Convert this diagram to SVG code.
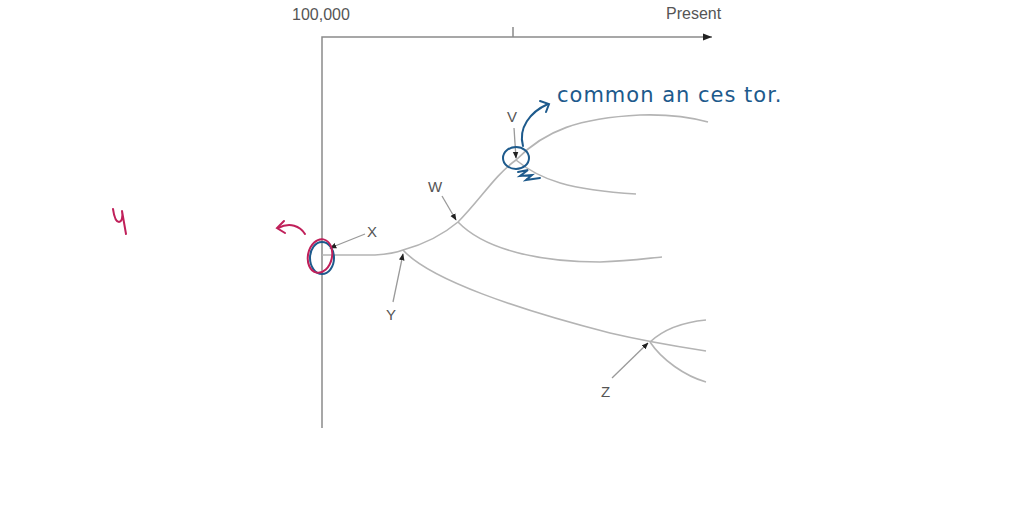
<svg xmlns="http://www.w3.org/2000/svg" width="1024" height="518" viewBox="0 0 1024 518">
<style>
.axis{stroke:#8a8a8a;stroke-width:1.5;fill:none}
.lin{stroke:#b4b4b4;stroke-width:1.6;fill:none}
.ptr{stroke:#9a9a9a;stroke-width:1.3;fill:none}
.lbl{font-family:"Liberation Sans",Arial,sans-serif;font-size:15px;fill:#555}
.ax{font-family:"Liberation Sans",Arial,sans-serif;font-size:16px;fill:#555}
.blue{stroke:#1d5a8c;stroke-width:2;fill:none;stroke-linecap:round}
.pink{stroke:#c0205a;stroke-width:2;fill:none;stroke-linecap:round}
</style>
<defs>
<marker id="ah" viewBox="0 0 10 10" refX="9" refY="5" markerWidth="7" markerHeight="7" orient="auto-start-reverse" markerUnits="userSpaceOnUse"><path d="M0,1 L10,5 L0,9 Z" fill="#222"/></marker>
<marker id="axh" viewBox="0 0 10 10" refX="10" refY="5" markerWidth="12" markerHeight="9" orient="auto" markerUnits="userSpaceOnUse"><path d="M0,1 L10,5 L0,9 Z" fill="#222"/></marker>
</defs>
<rect width="1024" height="518" fill="#fff"/>
<g id="axes">
<path class="axis" d="M322,428 L322,37 L712,37" marker-end="url(#axh)"/>
<line class="axis" x1="513" y1="27" x2="513" y2="37"/>
<text class="ax" x="292" y="20">100,000</text>
<text class="ax" x="666" y="19">Present</text>
</g>
<g id="connectors">
<path class="lin" d="M322,255 L375,255 C390,254 398,252 403,250 C425,244 445,233 458,222 C480,200 495,175 516,160 C545,130 580,118 640,115 C670,114 690,117 708,122"/>
<path class="lin" d="M516,160 C540,180 570,190 636,194"/>
<path class="lin" d="M458,222 C485,250 540,262 600,262 C630,261 650,258 662,257"/>
<path class="lin" d="M403,250 C430,280 520,310 610,333 C640,340 680,347 706,351"/>
<path class="lin" d="M650,342 C665,328 685,322 706,320"/>
<path class="lin" d="M650,342 C662,360 685,376 706,382"/>
<line class="ptr" x1="365" y1="234" x2="330" y2="248" marker-end="url(#ah)"/>
<line class="ptr" x1="393" y1="302" x2="403" y2="254" marker-end="url(#ah)"/>
<line class="ptr" x1="442" y1="196" x2="456" y2="220" marker-end="url(#ah)"/>
<line class="ptr" x1="514" y1="128" x2="516" y2="158" marker-end="url(#ah)"/>
<line class="ptr" x1="612" y1="378" x2="648" y2="343" marker-end="url(#ah)"/>
</g>
<g id="node-X"><text class="lbl" x="367" y="237">X</text></g>
<g id="node-Y"><text class="lbl" x="386" y="320">Y</text></g>
<g id="node-W"><text class="lbl" x="428" y="192">W</text></g>
<g id="node-V"><text class="lbl" x="507" y="122">V</text></g>
<g id="node-Z"><text class="lbl" x="601" y="397">Z</text></g>
<g id="annotations">
<ellipse class="blue" cx="516" cy="158" rx="13" ry="11"/>
<path class="blue" d="M518,172 L528,170 L520,176 L532,175 L526,180 L540,178"/>
<path class="blue" d="M523,146 C518,128 530,112 548,104"/>
<path class="blue" d="M540,101 L549,104 L546,112"/>
<text x="557" y="102" font-family="DejaVu Sans,sans-serif" font-size="21" fill="#1d5a8c" letter-spacing="1">common an ces tor.</text>
<ellipse class="blue" cx="322" cy="258" rx="12" ry="16"/>
<ellipse class="pink" cx="320" cy="256" rx="12" ry="17" transform="rotate(12 320 256)"/>
<path class="pink" d="M305,234 C300,226 290,222 278,228"/>
<path class="pink" d="M284,221 L277,228 L285,233"/>
<path class="pink" d="M113,209 C114,216 116,222 119,222 C122,222 123,216 122,211 M122,211 L126,234"/>
</g>
</svg>
